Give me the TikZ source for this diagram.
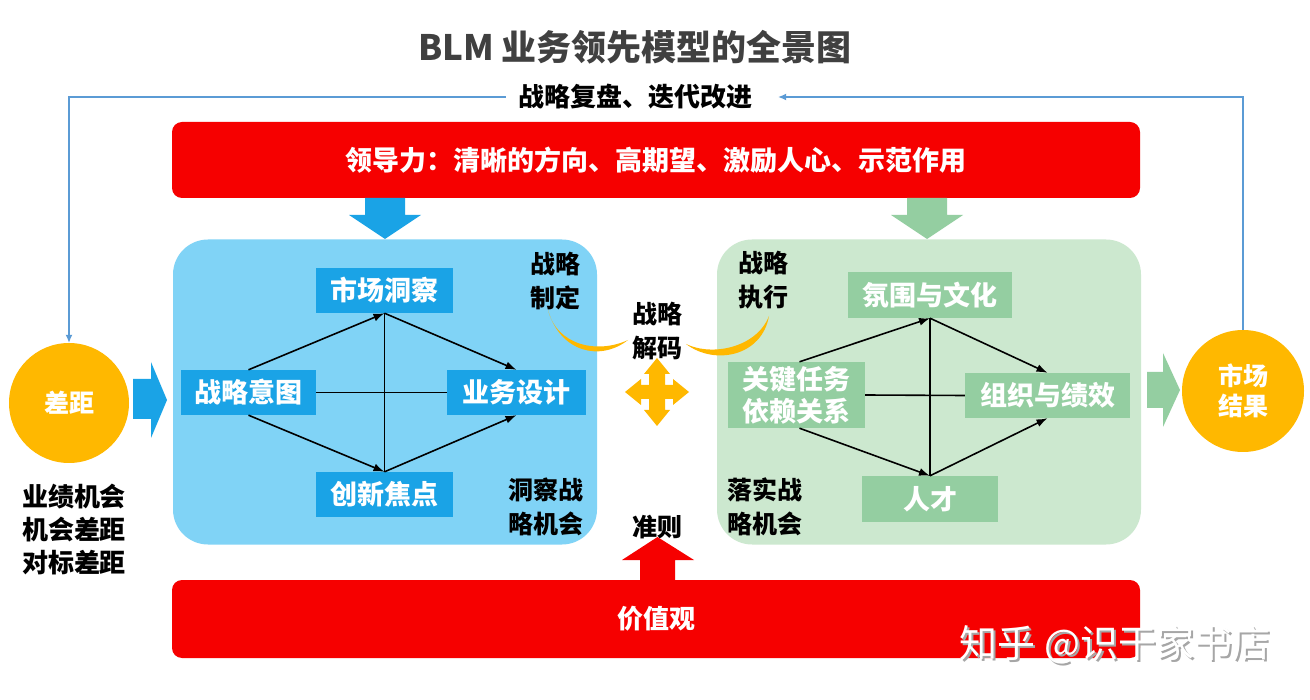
\documentclass[tikz,border=0pt]{standalone}
\usepackage{fontspec}
\setmainfont{Noto Sans CJK SC}
\usepackage{xcolor}
\usetikzlibrary{positioning, arrows.meta}

\definecolor{barred}{HTML}{F60000}
\definecolor{skyblue}{HTML}{80D3F6}
\definecolor{deepblue}{HTML}{1AA3E6}
\definecolor{palegreen}{HTML}{CCE8CF}
\definecolor{midgreen}{HTML}{94CEA1}
\definecolor{gold}{HTML}{FFB800}
\definecolor{linkblue}{HTML}{5B9BD5}
\definecolor{titlegray}{HTML}{404040}

\begin{document}
\begin{tikzpicture}[x=1pt, y=-1pt,
    txt/.style={font=\fontsize{25}{34}\selectfont\bfseries, align=center, inner sep=0pt},
    bar/.style={txt, fill=barred, text=white, rounded corners=10pt, minimum width=968pt},
    panel/.style={rounded corners=35pt, minimum width=424pt, minimum height=305pt},
    inbox/.style={txt, text=white, minimum height=45pt, font=\fontsize{27}{32}\selectfont\bfseries},
    disc/.style={txt, circle, fill=gold, text=white, font=\fontsize{25}{30}\selectfont\bfseries},
    flow/.style={line width=1.6pt, -{Latex[length=11pt, width=8pt]}},
    link/.style={line width=1.6pt}]

    \useasboundingbox[fill=white] (0,0) rectangle (1310,700);

    % Title and review loop
    \node[txt, text=titlegray, font=\fontsize{35}{40}\selectfont\bfseries] (title) at (635,47) {BLM 业务领先模型的全景图};
    \node[txt, fill=white, inner xsep=12pt, inner ysep=4pt, font=\fontsize{26}{30}\selectfont\bfseries] (loop) at (635,97) {战略复盘、迭代改进};

    % Leadership and values bars
    \node[bar, minimum height=76pt, font=\fontsize{27}{32}\selectfont\bfseries] (lead) at (656,160) {领导力：清晰的方向、高期望、激励人心、示范作用};
    \node[bar, minimum height=78pt, font=\fontsize{26}{32}\selectfont\bfseries] (values) at (656,619) {价值观};

    % Panels
    \node[panel, fill=skyblue] (plan) at (385,392) {};
    \node[panel, fill=palegreen] (exec) at (929,392) {};

    % Gap and result circles
    \node[disc, minimum size=120pt] (gap) at (69,403) {差距};
    \node[disc, minimum size=122pt, font=\fontsize{25}{30}\selectfont\bfseries] (result) at (1243,391) {市场\\结果};

    % Loop lines
    \draw[linkblue, line width=1.2pt, -{Latex[length=8pt, width=7pt]}] (loop.west) -| (gap.north);
    \draw[linkblue, line width=1.2pt, -{Latex[length=8pt, width=7pt]}, shorten >=14pt] (result.north) |- (loop.east);

    % Strategy boxes (blue)
    \node[inbox, fill=deepblue, minimum width=137pt] (insight) at (384.5,290.5) {市场洞察};
    \node[inbox, fill=deepblue, minimum width=135pt] (intent) at (248.5,392.5) {战略意图};
    \node[inbox, fill=deepblue, minimum width=139pt] (design) at (516.5,392.5) {业务设计};
    \node[inbox, fill=deepblue, minimum width=137pt] (innov) at (384.5,494.5) {创新焦点};

    % Execution boxes (green)
    \node[inbox, fill=midgreen, minimum width=164pt, minimum height=46pt] (culture) at (930,295) {氛围与文化};
    \node[inbox, fill=midgreen, minimum width=137pt, minimum height=66pt] (task) at (796.5,395) {关键任务\\依赖关系};
    \node[inbox, fill=midgreen, minimum width=165pt] (org) at (1047.5,395.5) {组织与绩效};
    \node[inbox, fill=midgreen, minimum width=136pt, minimum height=46pt] (talent) at (930,499) {人才};

    % Arrows in the strategy panel
    \draw[link] (intent.east) -- (design.west);
    \draw[link] (insight.south) -- (innov.north);
    \draw[flow] (intent.north) -- (insight.south);
    \draw[flow] (intent.south) -- (innov.north);
    \draw[flow] (insight.south) -- (design.north);
    \draw[flow] (innov.north) -- (design.south);

    % Arrows in the execution panel
    \draw[link] (task.east) -- (org.west);
    \draw[link] (culture.south) -- (talent.north);
    \draw[flow] ([xshift=3pt]task.north) -- (culture.south);
    \draw[flow] ([xshift=3pt]task.south) -- (talent.north);
    \draw[flow] (culture.south) -- (org.north);
    \draw[flow] (talent.north) -- (org.south);

    % Side labels
    \node[txt] (make) at (555,281) {战略\\制定};
    \node[txt] (probe) at (546,507) {洞察战\\略机会};
    \node[txt] (run) at (763,280) {战略\\执行};
    \node[txt] (land) at (765,507) {落实战\\略机会};
    \node[txt] (decode) at (657,331) {战略\\解码};
    \node[txt] (rule) at (657,527) {准则};
    \node[txt, align=left, font=\fontsize{26}{33}\selectfont\bfseries] (chance) at (74,530) {业绩机会\\机会差距\\对标差距};

    % Gold swooshes
    \coordinate (swA) at (548,310);
    \coordinate (swB) at (628,340);
    \coordinate (swC) at (686,344);
    \coordinate (swD) at (769,316);
    \fill[gold] (swA) .. controls (560,352) and (600,362) .. (swB) .. controls (598,354) and (557,346) .. cycle;
    \fill[gold] (swC) .. controls (715,366) and (762,356) .. (swD) .. controls (757,347) and (713,357) .. cycle;

    % Block arrows
    \fill[deepblue] (365,198) -- (405,198) -- (405,215) -- (421,215) -- (385,239) -- (349,215) -- (365,215) -- cycle;
    \fill[midgreen] (907,198) -- (947,198) -- (947,215) -- (963,215) -- (927,239) -- (891,215) -- (907,215) -- cycle;
    \fill[deepblue] (133,379) -- (151,379) -- (151,362) -- (167,400) -- (151,438) -- (151,419) -- (133,419) -- cycle;
    \fill[midgreen] (1147,372) -- (1163,372) -- (1163,353) -- (1180,390) -- (1163,427) -- (1163,408) -- (1147,408) -- cycle;
    \fill[barred] (640,581) -- (640,560) -- (622,560) -- (657.5,537) -- (694,560) -- (675,560) -- (675,581) -- cycle;

    % Four-way decode arrow
    \fill[gold] (657,358) -- (670,374) -- (665,374) -- (665,385) -- (673,385) -- (673,379) -- (689,392)
        -- (673,405) -- (673,399) -- (665,399) -- (665,410) -- (670,410) -- (657,426) -- (644,410)
        -- (649,410) -- (649,399) -- (641,399) -- (641,405) -- (625,392) -- (641,379) -- (641,385)
        -- (649,385) -- (649,374) -- (644,374) -- cycle;

    % Watermark
    \node[txt, text=gray!70, font=\fontsize{38}{42}\selectfont] (markshade) at (1117,647) {知乎 @识干家书店};
    \node[txt, text=white, font=\fontsize{38}{42}\selectfont] (mark) at (1115,645) {知乎 @识干家书店};
\end{tikzpicture}
\end{document}
